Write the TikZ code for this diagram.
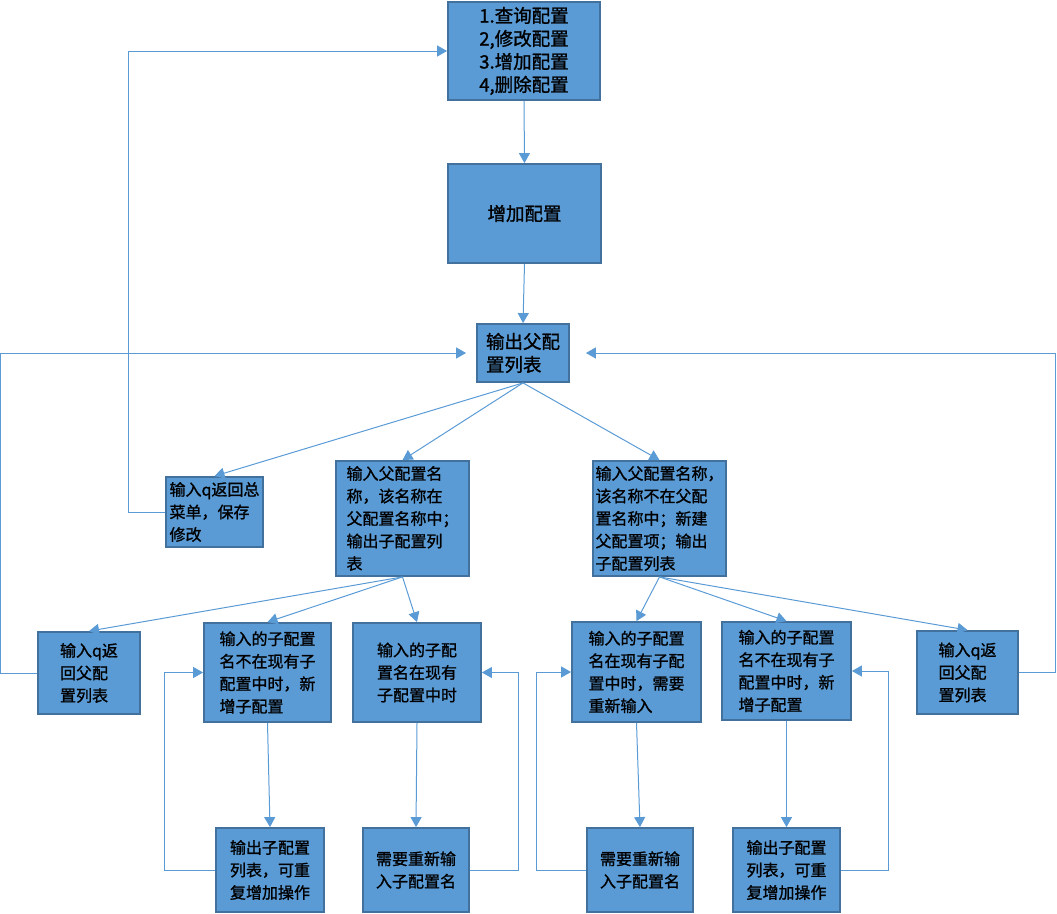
\documentclass[tikz,border=0pt]{standalone}
\usepackage{fontspec}
\setmainfont{Noto Sans CJK SC}[FakeBold=1.2]
\usetikzlibrary{arrows.meta}
\definecolor{boxfill}{HTML}{5B9BD5}
\definecolor{boxline}{HTML}{41719C}
\definecolor{linkcol}{HTML}{5B9BD5}
\begin{document}
\begin{tikzpicture}[x=1pt,y=-1pt,
	box/.style={draw=boxline,line width=1.8pt,fill=boxfill,align=left,inner sep=0pt,font=\fontsize{16}{22.5}\selectfont},
	bigbox/.style={box,font=\fontsize{18.5}{23}\selectfont},
	link/.style={draw=linkcol,line width=1pt,-{Triangle[width=11pt,length=10pt]}}]
	\useasboundingbox (0,0) rectangle (1057,913);
	\node [bigbox,minimum width=152,minimum height=98] (menu) at (524,51) {1.查询配置\\2,修改配置\\3.增加配置\\4,删除配置};
	\node [bigbox,minimum width=153,minimum height=99] (add) at (524.5,213.5) {增加配置};
	\node [bigbox,minimum width=92,minimum height=58] (out) at (523,353) {输出父配\\置列表};
	\node [box,minimum width=97,minimum height=70] (qm) at (214.5,512) {输入q返回总\\菜单，保存\\修改};
	\node [box,minimum width=133,minimum height=115] (pin) at (402.5,518.5) {输入父配置名\\称，该名称在\\父配置名称中；\\输出子配置列\\表};
	\node [box,minimum width=133,minimum height=115] (pnot) at (659.5,518.5) {输入父配置名称，\\该名称不在父配\\置名称中；新建\\父配置项；输出\\子配置列表};
	\node [box,minimum width=102,minimum height=82] (qL) at (89,673) {输入q返\\回父配\\置列表};
	\node [box,minimum width=127,minimum height=99] (cnL) at (267.5,672.5) {输入的子配置\\名不在现有子\\配置中时，新\\增子配置};
	\node [box,minimum width=128,minimum height=99] (ciL) at (417,672.5) {输入的子配\\置名在现有\\子配置中时};
	\node [box,minimum width=129,minimum height=100] (ciR) at (636.5,672) {输入的子配置\\名在现有子配\\置中时，需要\\重新输入};
	\node [box,minimum width=129,minimum height=98] (cnR) at (786.5,671) {输入的子配置\\名不在现有子\\配置中时，新\\增子配置};
	\node [box,minimum width=101,minimum height=83] (qR) at (967.5,672.5) {输入q返\\回父配\\置列表};
	\node [box,minimum width=108,minimum height=84] (bL1) at (270,870) {输出子配置\\列表，可重\\复增加操作};
	\node [box,minimum width=106,minimum height=84] (bL2) at (416,870) {需要重新输\\入子配置名};
	\node [box,minimum width=106,minimum height=84] (bR1) at (640,870) {需要重新输\\入子配置名};
	\node [box,minimum width=107,minimum height=84] (bR2) at (786.5,870) {输出子配置\\列表，可重\\复增加操作};
	\draw [link] (menu.south) -- (add.north);
	\draw [link] (add.south) -- (out.north);
	\draw [link] (out.south) -- (qm.north);
	\draw [link] (out.south) -- (pin.north);
	\draw [link] (out.south) -- (pnot.north);
	\draw [link] (qm.west) -- ++(-37,0) |- (menu.west);
	\draw [link,shorten >=10pt] (qL.west) -- ++(-36.3,0) |- (out.west);
	\draw [link,shorten >=16pt] (qR.east) -- ++(37,0) |- (out.east);
	\draw [link] (pin.south) -- (qL.north);
	\draw [link] (pin.south) -- (cnL.north);
	\draw [link] (pin.south) -- (ciL.north);
	\draw [link] (pnot.south) -- (ciR.north);
	\draw [link] (pnot.south) -- (cnR.north);
	\draw [link] (pnot.south) -- (qR.north);
	\draw [link] (cnL.south) -- (bL1.north);
	\draw [link] (ciL.south) -- (bL2.north);
	\draw [link] (ciR.south) -- (bR1.north);
	\draw [link] (cnR.south) -- (bR2.north);
	\draw [link] (bL1.west) -- ++(-51,0) |- (cnL.west);
	\draw [link] (bL2.east) -- ++(49,0) |- (ciL.east);
	\draw [link] (bR1.west) -- ++(-50,0) |- (ciR.west);
	\draw [link] (bR2.east) -- ++(48,0) |- (cnR.east);
\end{tikzpicture}
\end{document}
